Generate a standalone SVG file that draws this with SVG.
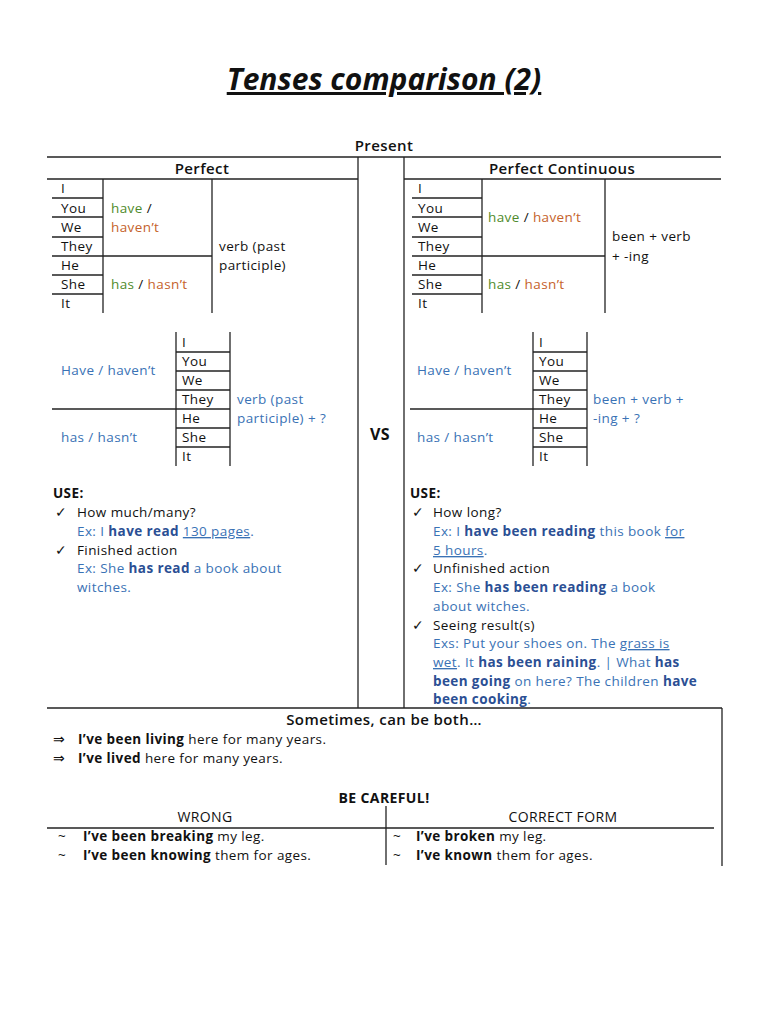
<svg xmlns="http://www.w3.org/2000/svg" width="768" height="1024" viewBox="0 0 768 1024">
<style>
text{font-family:"Open Sans","Liberation Sans",sans-serif;font-size:13.5px;letter-spacing:0.4px;fill:#111}
.h{font-size:15px;font-weight:600}
.b{font-weight:700}
.g{fill:#4f8a2b}.o{fill:#c5622b}.bl{fill:#3a72b5}.bd{fill:#2b4f94;font-weight:700}
.u{text-decoration:underline}
.c{text-anchor:middle}
line{stroke:#222;stroke-width:1.3}
</style>
<rect width="768" height="1024" fill="#fff"/>
<text x="384" y="90" class="c" style="font-size:30px;font-weight:700;font-style:italic;letter-spacing:0;text-decoration:underline">Tenses comparison (2)</text>
<text x="384" y="151" class="c h">Present</text>
<g id="grid">
<line x1="47" y1="157" x2="721" y2="157"/>
<line x1="358" y1="157" x2="358" y2="708"/>
<line x1="404" y1="157" x2="404" y2="708"/>
<line x1="47" y1="179" x2="358" y2="179"/>
<line x1="404" y1="179" x2="721" y2="179"/>
</g>
<text x="202" y="174" class="c h">Perfect</text>
<text x="562" y="174" class="c h">Perfect Continuous</text>
<text x="380" y="440" class="c b" style="font-size:16px">VS</text>

<g id="perfect-affirm">
<g>
<line x1="52" y1="198" x2="103" y2="198"/><line x1="52" y1="217" x2="103" y2="217"/><line x1="52" y1="237" x2="103" y2="237"/><line x1="52" y1="256" x2="212" y2="256"/><line x1="52" y1="275" x2="103" y2="275"/><line x1="52" y1="294" x2="103" y2="294"/>
<line x1="103" y1="179" x2="103" y2="313"/><line x1="212" y1="179" x2="212" y2="313"/>
</g>
<text x="61" y="193">I</text><text x="61" y="213">You</text><text x="61" y="232">We</text><text x="61" y="251">They</text><text x="61" y="270">He</text><text x="61" y="289">She</text><text x="61" y="308">It</text>
<text x="111" y="213"><tspan class="g">have</tspan> /</text>
<text x="111" y="232" class="o">haven’t</text>
<text x="111" y="289"><tspan class="g">has</tspan> / <tspan class="o">hasn’t</tspan></text>
<text x="219" y="251">verb (past</text><text x="219" y="270">participle)</text>
</g>

<g id="perfect-question">
<line x1="176" y1="332" x2="176" y2="466"/><line x1="230" y1="332" x2="230" y2="466"/>
<line x1="176" y1="352" x2="230" y2="352"/><line x1="176" y1="371" x2="230" y2="371"/><line x1="176" y1="390" x2="230" y2="390"/><line x1="52" y1="409" x2="230" y2="409"/><line x1="176" y1="428" x2="230" y2="428"/><line x1="176" y1="447" x2="230" y2="447"/>
<text x="182" y="347">I</text><text x="182" y="366">You</text><text x="182" y="385">We</text><text x="182" y="404">They</text><text x="182" y="423">He</text><text x="182" y="442">She</text><text x="182" y="461">It</text>
<text x="61" y="375" class="bl">Have / haven’t</text>
<text x="61" y="442" class="bl">has / hasn’t</text>
<text x="237" y="404" class="bl">verb (past</text><text x="237" y="423" class="bl">participle) + ?</text>
</g>

<g id="cont-affirm">
<line x1="412" y1="198" x2="482" y2="198"/><line x1="412" y1="217" x2="482" y2="217"/><line x1="412" y1="237" x2="482" y2="237"/><line x1="412" y1="256" x2="605" y2="256"/><line x1="412" y1="275" x2="482" y2="275"/><line x1="412" y1="294" x2="482" y2="294"/>
<line x1="482" y1="179" x2="482" y2="313"/><line x1="605" y1="179" x2="605" y2="313"/>
<text x="418" y="193">I</text><text x="418" y="213">You</text><text x="418" y="232">We</text><text x="418" y="251">They</text><text x="418" y="270">He</text><text x="418" y="289">She</text><text x="418" y="308">It</text>
<text x="488" y="222"><tspan class="g">have</tspan> / <tspan class="o">haven’t</tspan></text>
<text x="488" y="289"><tspan class="g">has</tspan> / <tspan class="o">hasn’t</tspan></text>
<text x="612" y="241">been + verb</text><text x="612" y="261">+ -ing</text>
</g>

<g id="cont-question">
<line x1="533" y1="332" x2="533" y2="466"/><line x1="587" y1="332" x2="587" y2="466"/>
<line x1="533" y1="352" x2="587" y2="352"/><line x1="533" y1="371" x2="587" y2="371"/><line x1="533" y1="390" x2="587" y2="390"/><line x1="410" y1="409" x2="587" y2="409"/><line x1="533" y1="428" x2="587" y2="428"/><line x1="533" y1="447" x2="587" y2="447"/>
<text x="539" y="347">I</text><text x="539" y="366">You</text><text x="539" y="385">We</text><text x="539" y="404">They</text><text x="539" y="423">He</text><text x="539" y="442">She</text><text x="539" y="461">It</text>
<text x="417" y="375" class="bl">Have / haven’t</text>
<text x="417" y="442" class="bl">has / hasn’t</text>
<text x="593" y="404" class="bl">been + verb +</text><text x="593" y="423" class="bl">-ing + ?</text>
</g>

<g id="use-left">
<text x="53" y="498" class="b">USE:</text>
<text x="55" y="517">✓</text><text x="77" y="517">How much/many?</text>
<text x="77" y="536" class="bl">Ex: I <tspan class="bd">have read</tspan> <tspan class="u">130 pages</tspan>.</text>
<text x="55" y="555">✓</text><text x="77" y="555">Finished action</text>
<text x="77" y="573" class="bl">Ex: She <tspan class="bd">has read</tspan> a book about</text>
<text x="77" y="592" class="bl">witches.</text>
</g>
<g id="use-right">
<text x="410" y="498" class="b">USE:</text>
<text x="412" y="517">✓</text><text x="433" y="517">How long?</text>
<text x="433" y="536" class="bl">Ex: I <tspan class="bd">have been reading</tspan> this book <tspan class="u">for</tspan></text>
<text x="433" y="555" class="bl"><tspan class="u">5 hours</tspan>.</text>
<text x="412" y="573">✓</text><text x="433" y="573">Unfinished action</text>
<text x="433" y="592" class="bl">Ex: She <tspan class="bd">has been reading</tspan> a book</text>
<text x="433" y="611" class="bl">about witches.</text>
<text x="412" y="630">✓</text><text x="433" y="630">Seeing result(s)</text>
<text x="433" y="648" class="bl">Exs: Put your shoes on. The <tspan class="u">grass is</tspan></text>
<text x="433" y="667" class="bl"><tspan class="u">wet</tspan>. It <tspan class="bd">has been raining</tspan>. | What <tspan class="bd">has</tspan></text>
<text x="433" y="686" class="bl"><tspan class="bd">been going</tspan> on here? The children <tspan class="bd">have</tspan></text>
<text x="433" y="704" class="bl"><tspan class="bd">been cooking</tspan>.</text>
</g>

<g id="both">
<line x1="47" y1="708" x2="722" y2="708"/>
<line x1="722" y1="708" x2="722" y2="866"/>
<text x="384" y="725" class="c h">Sometimes, can be both…</text>
<text x="53" y="744">⇒</text><text x="78" y="744"><tspan class="b">I’ve been living</tspan> here for many years.</text>
<text x="53" y="763">⇒</text><text x="78" y="763"><tspan class="b">I’ve lived</tspan> here for many years.</text>
</g>
<g id="careful">
<text x="384" y="803" class="c b" style="font-size:14px">BE CAREFUL!</text>
<text x="205" y="822" class="c" style="font-size:14px">WRONG</text>
<text x="563" y="822" class="c" style="font-size:14px">CORRECT FORM</text>
<line x1="47" y1="828" x2="714" y2="828"/>
<line x1="386" y1="806" x2="386" y2="865"/>
<text x="58" y="841">~</text><text x="83" y="841"><tspan class="b">I’ve been breaking</tspan> my leg.</text>
<text x="58" y="860">~</text><text x="83" y="860"><tspan class="b">I’ve been knowing</tspan> them for ages.</text>
<text x="393" y="841">~</text><text x="416" y="841"><tspan class="b">I’ve broken</tspan> my leg.</text>
<text x="393" y="860">~</text><text x="416" y="860"><tspan class="b">I’ve known</tspan> them for ages.</text>
</g>
</svg>
